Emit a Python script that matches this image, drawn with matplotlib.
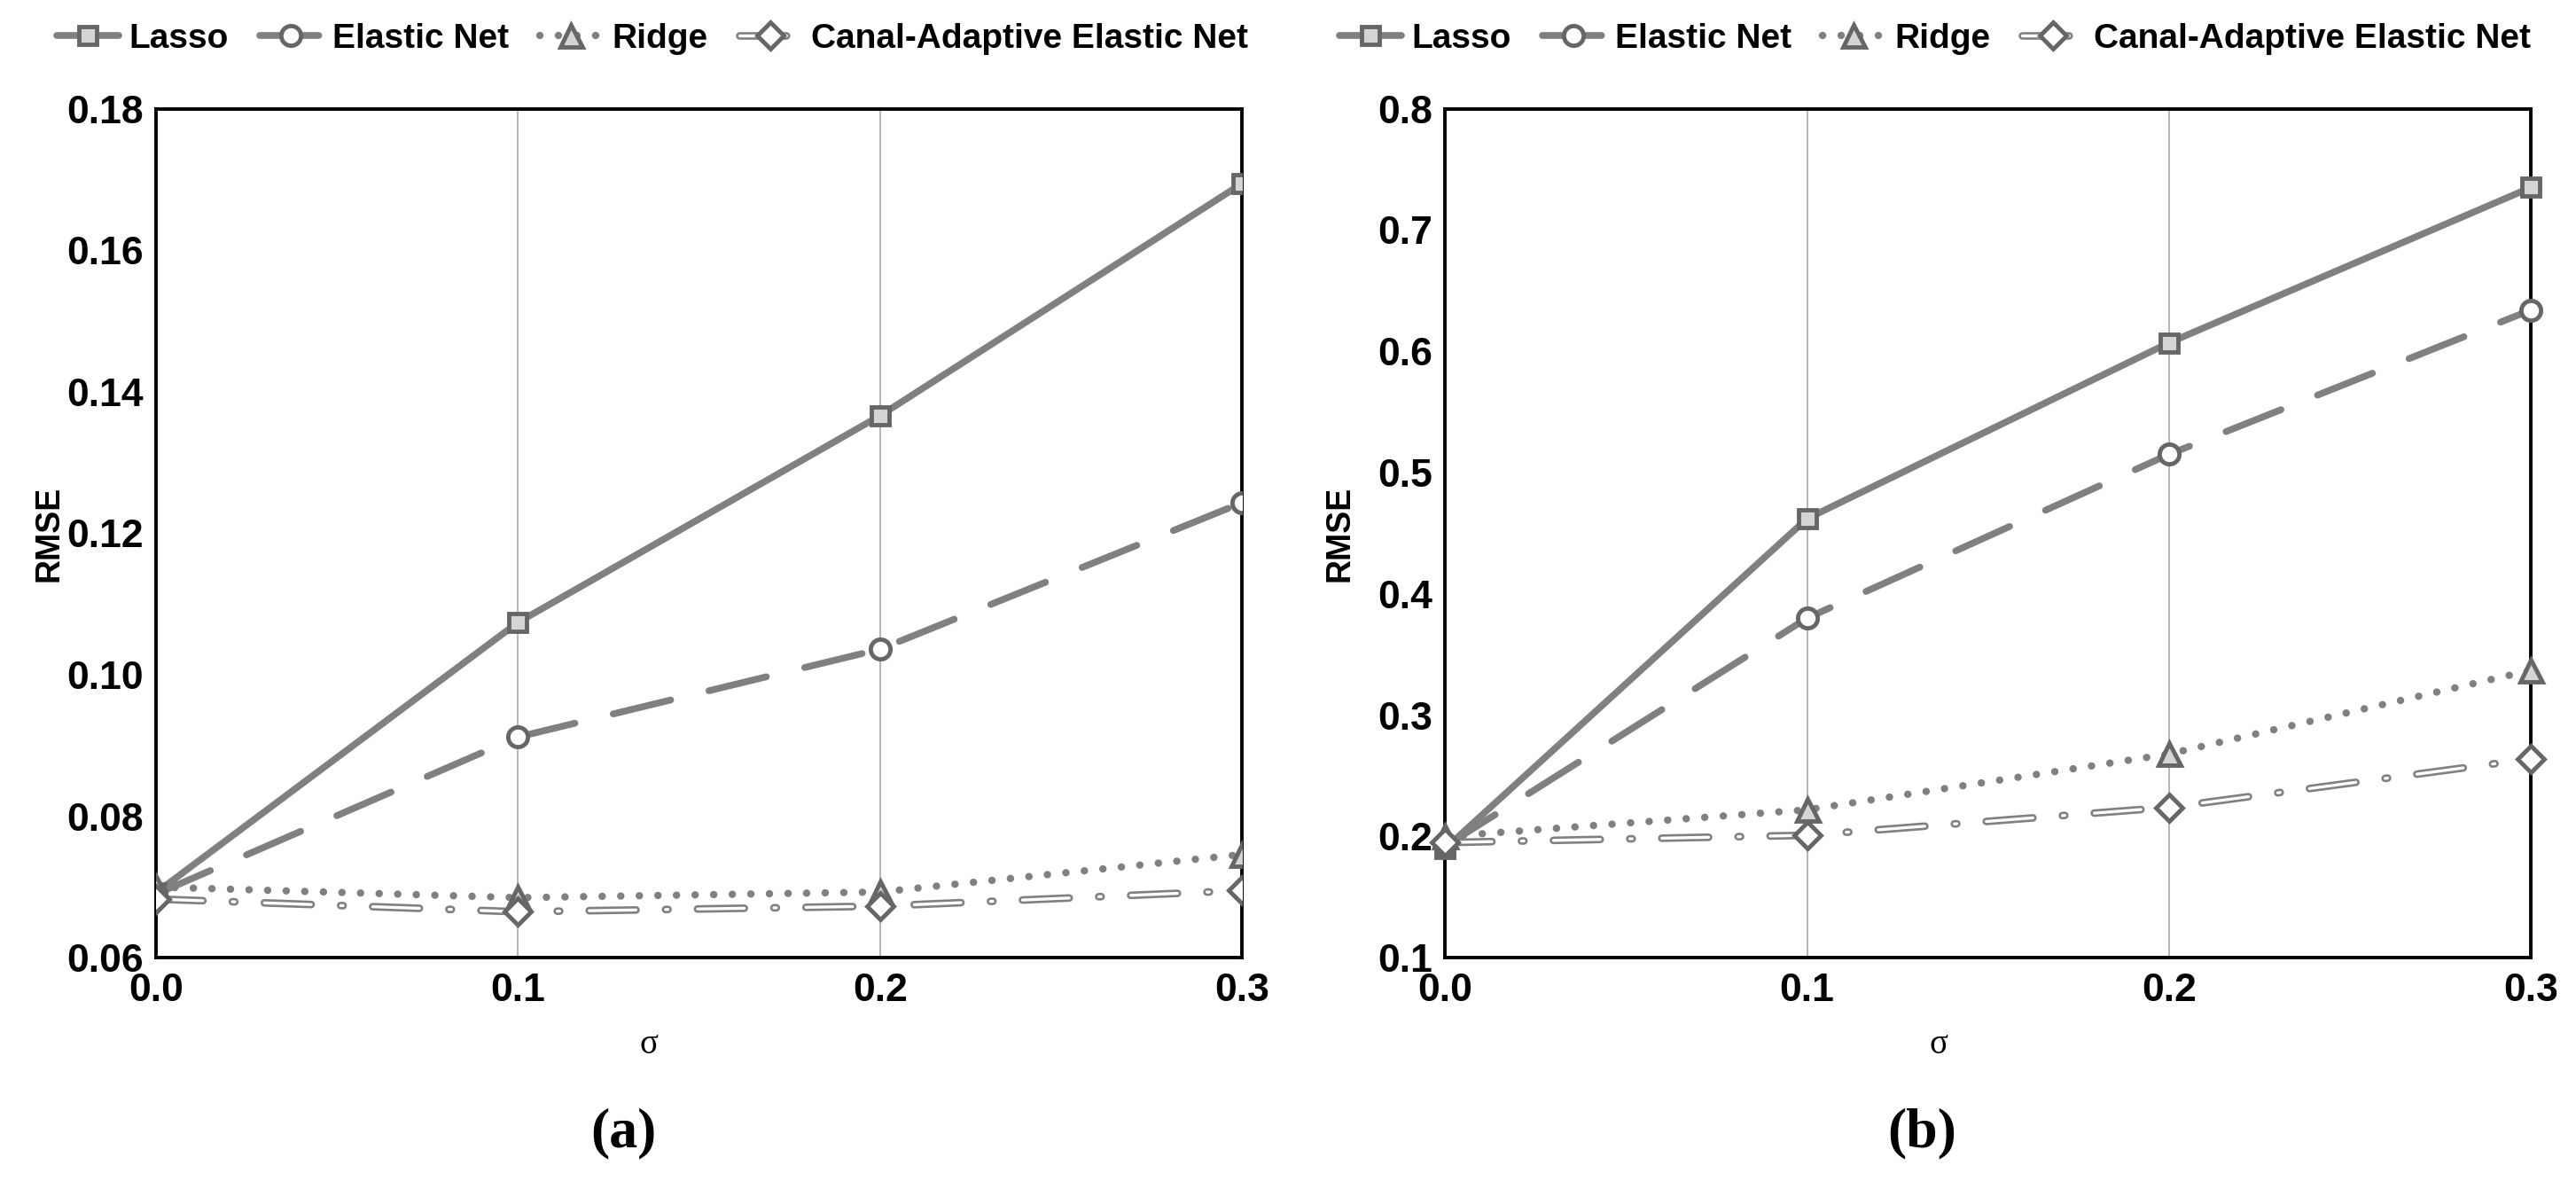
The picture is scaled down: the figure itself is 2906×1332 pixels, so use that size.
import numpy as np
import matplotlib
matplotlib.use('Agg')
import matplotlib.pyplot as plt
from matplotlib.legend_handler import HandlerTuple

plt.rcParams['lines.scale_dashes'] = False
plt.rcParams['font.family'] = ['Liberation Sans', 'DejaVu Sans']
plt.rcParams['font.weight'] = 'bold'

sigma = [0.0, 0.1, 0.2, 0.3]
names = ['Lasso', 'Elastic Net', 'Ridge', 'Canal-Adaptive Elastic Net']

# panel (a)
lasso_a = [0.0692, 0.1074, 0.1366, 0.1694]
enet_a = [0.0690, 0.0912, 0.1036, 0.1243]
ridge_a = [0.0700, 0.0685, 0.0693, 0.0746]
canal_a = [0.0683, 0.0665, 0.0673, 0.0695]
yticks_a = [0.06, 0.08, 0.10, 0.12, 0.14, 0.16, 0.18]
ylabels_a = ['0.06', '0.08', '0.10', '0.12', '0.14', '0.16', '0.18']

# panel (b)
lasso_b = [0.190, 0.462, 0.607, 0.735]
enet_b = [0.192, 0.380, 0.515, 0.634]
ridge_b = [0.200, 0.222, 0.268, 0.337]
canal_b = [0.195, 0.201, 0.224, 0.264]
yticks_b = [0.1, 0.2, 0.3, 0.4, 0.5, 0.6, 0.7, 0.8]
ylabels_b = ['0.1', '0.2', '0.3', '0.4', '0.5', '0.6', '0.7', '0.8']

panels = [
    dict(data=[lasso_a, enet_a, ridge_a, canal_a], ticks=yticks_a, labels=ylabels_a,
         ylim=(0.06, 0.18), left=0.0606, tag='(a)', tagx=0.242, sigx=0.252, rmsex=0.019,
         legx=0.022, clip=True),
    dict(data=[lasso_b, enet_b, ridge_b, canal_b], ticks=yticks_b, labels=ylabels_b,
         ylim=(0.1, 0.8), left=0.561, tag='(b)', tagx=0.746, sigx=0.7525, rmsex=0.52,
         legx=0.520, clip=False),
]

grey = '#808080'
edge = '#666666'
face = '#d4d4d4'

fig = plt.figure(figsize=(29.06, 13.32), dpi=100)

for p in panels:
    ax = fig.add_axes([p['left'], 0.189, 0.4215, 0.719])
    lasso, enet, ridge, canal = p['data']

    l1, = ax.plot(sigma, lasso, color=grey, lw=5.5, solid_capstyle='round',
                  marker='s', ms=15, mfc=face, mec=edge, mew=3.5, clip_on=p['clip'], zorder=5)
    l2, = ax.plot(sigma, enet, color=grey, lw=5.5, dashes=(48, 32), dash_capstyle='round',
                  marker='o', ms=16, mfc='white', mec=edge, mew=3.5, clip_on=p['clip'], zorder=5)
    l3, = ax.plot(sigma, ridge, color=grey, lw=6, dashes=(0.1, 15), dash_capstyle='round',
                  marker='^', ms=18, mfc=face, mec=edge, mew=3.5, clip_on=p['clip'], zorder=5)
    l4a, = ax.plot(sigma, canal, color=grey, lw=6.2, dashes=(38, 24, 2, 24),
                   dash_capstyle='round', clip_on=p['clip'], zorder=4)
    l4b, = ax.plot(sigma, canal, color='white', lw=2.4, dashes=(38, 24, 2, 24),
                   dash_capstyle='round', clip_on=p['clip'], zorder=4)
    l4c, = ax.plot(sigma, canal, ls='none', marker='D', ms=15, mfc='white', mec=edge,
                   mew=3.5, clip_on=p['clip'], zorder=5)

    ax.set_xlim(0, 0.3)
    ax.set_ylim(*p['ylim'])
    ax.set_xticks(sigma)
    ax.set_xticklabels(['0.0', '0.1', '0.2', '0.3'])
    ax.set_yticks(p['ticks'])
    ax.set_yticklabels(p['labels'])
    ax.tick_params(axis='both', length=0, labelsize=32)
    ax.tick_params(axis='x', pad=12)
    ax.tick_params(axis='y', pad=10)
    ax.grid(axis='x', color='#b0b0b0', lw=1.3)
    ax.set_axisbelow(True)
    for s in ax.spines.values():
        s.set_linewidth(2.8)
        s.set_color('black')

    fig.text(p['rmsex'], 0.548, 'RMSE', rotation=90, fontsize=27, fontweight='bold',
             ha='center', va='center')
    fig.text(p['sigx'], 0.1156, 'σ', fontsize=28, fontweight='normal',
             family='Liberation Serif', ha='center', va='center')
    fig.text(p['tagx'], 0.0405, p['tag'], fontsize=46, fontweight='bold',
             family='Liberation Serif', ha='center', va='center')

    ax.legend([l1, l2, l3, (l4a, l4b, l4c)], names,
              handler_map={tuple: HandlerTuple(ndivide=1)},
              loc='center left', bbox_to_anchor=(p['legx'], 0.967),
              bbox_transform=fig.transFigure, ncol=4, frameon=False,
              handlelength=1.8, handletextpad=0.3, columnspacing=0.9,
              borderaxespad=0, borderpad=0, prop={'size': 28, 'weight': 'bold'})

fig.savefig('out.png', dpi=100)
